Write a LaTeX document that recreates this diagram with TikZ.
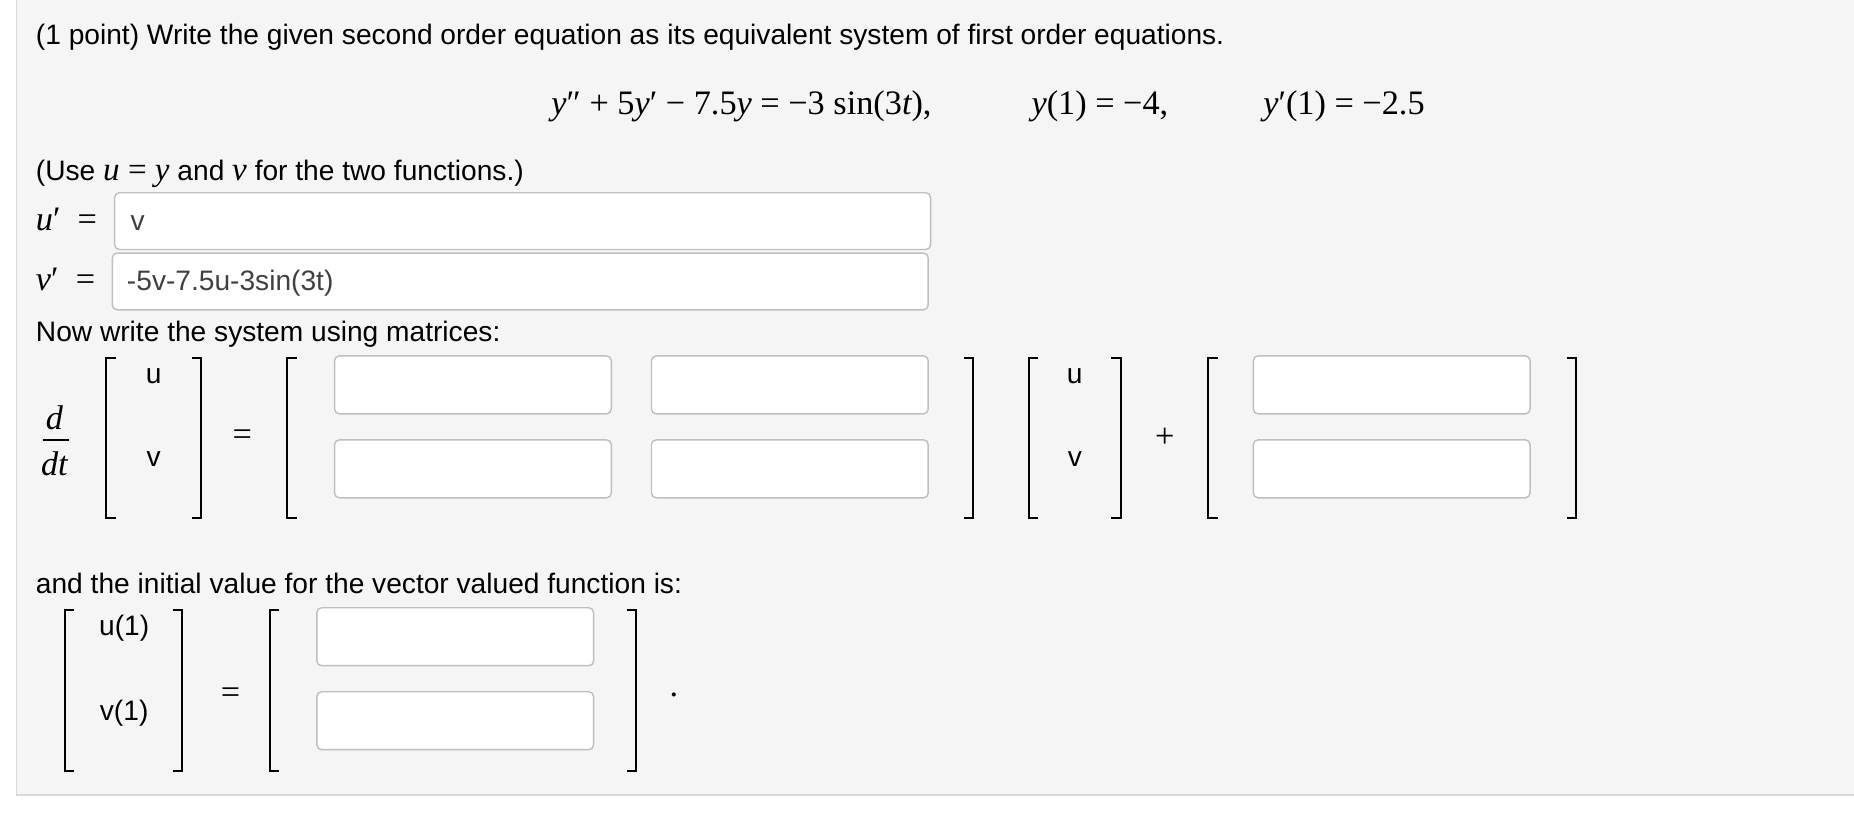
\documentclass[tikz,border=0pt]{standalone}
\usepackage{fontspec}
\setmainfont{Liberation Sans}
\newfontfamily\serifm{Liberation Serif}
\newcommand{\vi}[1]{{\itshape #1}}
\begin{document}
\begin{tikzpicture}[x=0.5pt,y=-0.5pt,
  txt/.style={anchor=base west,inner sep=0,font=\fontsize{11.9}{14}\selectfont},
  mth/.style={inner sep=0,font=\serifm\fontsize{14.5}{17}\selectfont},
  ibox/.style={draw=black!25,fill=white,rounded corners=2pt,line width=0.6pt},
  brk/.style={line width=0.8pt}]
\useasboundingbox (0,0) rectangle (1568,697);
\fill[white] (0,0) rectangle (1568,697);
\fill[black!4] (14,0) rectangle (1568,672);
\draw[black!15,line width=0.8pt] (14,0) -- (14,672) -- (1568,672);
\node[txt] (title) at (30,38) {(1 point) Write the given second order equation as its equivalent system of first order equations.};
\node[mth,anchor=base west] (eq1) at (466,97) {\vi{y}″ + 5\vi{y}′ − 7.5\vi{y} = −3 sin(3\vi{t}),};
\node[mth,anchor=base west] (eq2) at (872,97) {\vi{y}(1) = −4,};
\node[mth,anchor=base west] (eq3) at (1068,97) {\vi{y}′(1) = −2.5};
\node[txt] (use) at (30,153) {(Use {\serifm\fontsize{14}{16}\selectfont\itshape u \upshape = \itshape y} and {\serifm\fontsize{14}{16}\selectfont\itshape v} for the two functions.)};
\node[mth,anchor=base west] (ul) at (30,195) {\vi{u}′ \ =};
\draw[ibox] (97,163) rectangle (787,211);
\node[txt,text=black!75] (uv) at (110,195) {v};
\node[mth,anchor=base west] (vl) at (30,246) {\vi{v}′ \ =};
\draw[ibox] (95,214) rectangle (785,262);
\node[txt,text=black!75] (vv) at (107,246) {-5v-7.5u-3sin(3t)};
\node[txt] (now) at (30,289) {Now write the system using matrices:};
\node[mth] (dd) at (46,353) {\vi{d}};
\draw[line width=0.7pt] (36,372) -- (58,372);
\node[mth] (dt) at (46,392) {\vi{dt}};
\foreach \a/\b/\t/\u in {90/170/303/438, 243/823/303/438, 870/948/303/438, 1022/1333/303/438, 55/154/516/652, 228/538/516/652}{
  \draw[brk] (\a+8,\t) -- (\a,\t) -- (\a,\u) -- (\a+8,\u);
  \draw[brk] (\b-8,\t) -- (\b,\t) -- (\b,\u) -- (\b-8,\u);
}
\node[txt,anchor=center] (m1u) at (130,318) {u};
\node[txt,anchor=center] (m1v) at (130,388) {v};
\node[mth] (eqA) at (205,370) {=};
\draw[ibox] (283,301) rectangle (517,350);
\draw[ibox] (551,301) rectangle (785,350);
\draw[ibox] (283,372) rectangle (517,421);
\draw[ibox] (551,372) rectangle (785,421);
\node[txt,anchor=center] (m3u) at (909,318) {u};
\node[txt,anchor=center] (m3v) at (909,388) {v};
\node[mth] (plus) at (985,370) {+};
\draw[ibox] (1060,301) rectangle (1294,350);
\draw[ibox] (1060,372) rectangle (1294,421);
\node[txt] (init) at (30,502) {and the initial value for the vector valued function is:};
\node[txt,anchor=center] (u1) at (105,531) {u(1)};
\node[txt,anchor=center] (v1) at (105,603) {v(1)};
\node[mth] (eqB) at (195,588) {=};
\draw[ibox] (268,514) rectangle (502,563);
\draw[ibox] (268,585) rectangle (502,634);
\node[mth] (dot) at (570,588) {.};
\end{tikzpicture}
\end{document}
